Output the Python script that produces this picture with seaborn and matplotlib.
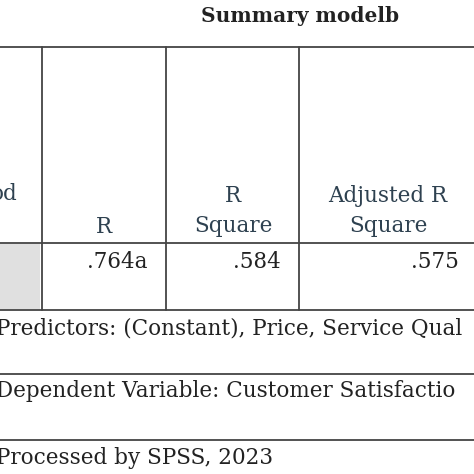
import matplotlib
matplotlib.use("Agg")
import matplotlib.pyplot as plt
import seaborn as sns

sns.set_theme(style="white")
plt.rcParams['font.family'] = ['DejaVu Serif']

title = "Summary modelb"
headers = ["od", "R", "R\nSquare", "Adjusted R\nSquare"]
values = [".764a", ".584", ".575"]
notes = ["Predictors: (Constant), Price, Service Qual",
         "Dependent Variable: Customer Satisfactio",
         "Processed by SPSS, 2023"]

fig = plt.figure(figsize=(4.74, 4.74), dpi=100)
ax = fig.add_axes([0, 0, 1, 1])
ax.set_xlim(0, 474)
ax.set_ylim(474, 0)
ax.axis("off")

hc = "#2e4150"
lc = "#444444"
fs = 15.5

ax.text(300, 16, title, ha="center", va="center", fontsize=14.5, fontweight="bold", color="#222222")

for y in [47, 243, 310, 374, 440]:
    ax.plot([0, 474], [y, y], color=lc, lw=1.3)
for x in [42, 166, 299]:
    ax.plot([x, x], [47, 310], color=lc, lw=1.3)
ax.fill_between([0, 40], 244, 309, color="#e0e0e0", lw=0)

ax.text(18, 194, headers[0], ha="right", va="center", fontsize=fs, color=hc)
ax.text(104, 227, headers[1], ha="center", va="center", fontsize=fs, color=hc)
ax.text(233, 211, headers[2], ha="center", va="center", fontsize=fs, color=hc, linespacing=1.45)
ax.text(388, 211, headers[3], ha="center", va="center", fontsize=fs, color=hc, linespacing=1.45)

for x, v in zip([148, 281, 459], values):
    ax.text(x, 262, v, ha="right", va="center", fontsize=fs, color="#222222")

for y, n in zip([328, 391, 458], notes):
    ax.text(-4, y, n, ha="left", va="center", fontsize=fs, color="#222222")

fig.savefig("out.png", dpi=100, facecolor="white")
